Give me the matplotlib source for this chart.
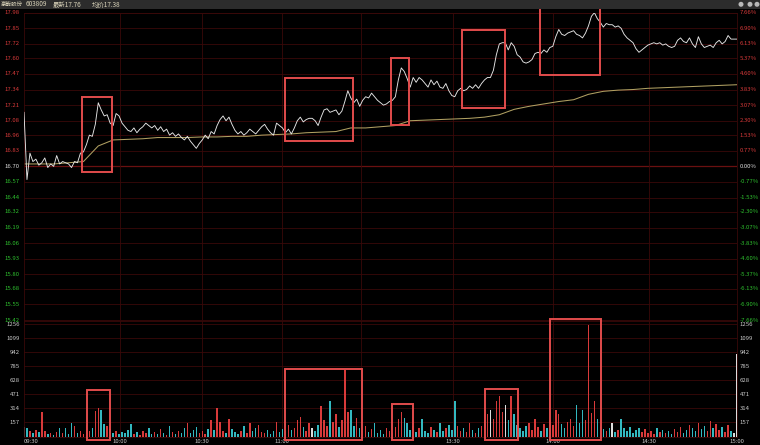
import numpy as np
import matplotlib.pyplot as plt
import matplotlib.transforms as mtransforms
from matplotlib.patches import Rectangle, Ellipse

plt.rcParams['font.family'] = ['Noto Sans CJK SC', 'DejaVu Sans']

prev_close = 16.70

# one value per minute, 09:30 .. 15:00 (241 points)
price = [
    17.15, 16.59, 16.81, 16.74, 16.76, 16.71, 16.73, 16.77, 16.69, 16.72,
    16.70, 16.79, 16.72, 16.74, 16.73, 16.72, 16.69, 16.74, 16.73, 16.81,
    16.82, 16.88, 16.96, 16.95, 17.05, 17.23, 17.17, 17.12, 17.13, 17.06,
    17.04, 17.14, 17.12, 17.06, 17.03, 17.00, 16.99, 17.02, 16.98, 17.01,
    17.03, 17.06, 17.04, 17.02, 17.04, 17.00, 17.03, 16.99, 17.01, 16.96,
    16.98, 16.95, 16.97, 16.94, 16.92, 16.95, 16.91, 16.88, 16.85, 16.89,
    16.92, 16.96, 16.93, 16.99, 16.97, 17.04, 17.09, 17.12, 17.08, 17.11,
    17.05, 17.00, 16.97, 16.99, 16.96, 16.98, 17.01, 16.99, 16.97, 17.00,
    17.03, 17.05, 17.01, 16.98, 16.96, 17.06, 17.04, 17.02, 16.98, 17.01,
    16.97, 17.02, 17.08, 17.11, 17.07, 17.09, 17.10, 17.10, 17.08, 17.04,
    17.11, 17.17, 17.18, 17.15, 17.16, 17.17, 17.13, 17.16, 17.24, 17.33,
    17.27, 17.23, 17.26, 17.20, 17.25, 17.28, 17.27, 17.31, 17.28, 17.25,
    17.23, 17.21, 17.22, 17.24, 17.25, 17.28, 17.42, 17.52, 17.49, 17.43,
    17.36, 17.44, 17.40, 17.44, 17.42, 17.39, 17.36, 17.42, 17.38, 17.41,
    17.36, 17.35, 17.39, 17.33, 17.29, 17.28, 17.33, 17.35, 17.33, 17.34,
    17.37, 17.35, 17.38, 17.35, 17.39, 17.42, 17.44, 17.44, 17.50, 17.63,
    17.72, 17.73, 17.73, 17.67, 17.73, 17.70, 17.63, 17.61, 17.57, 17.56,
    17.57, 17.59, 17.64, 17.65, 17.64, 17.67, 17.65, 17.69, 17.70, 17.78,
    17.84, 17.80, 17.79, 17.81, 17.82, 17.83, 17.80, 17.79, 17.77, 17.81,
    17.87, 17.95, 17.98, 17.93, 17.90, 17.86, 17.89, 17.88, 17.88, 17.86,
    17.87, 17.85, 17.80, 17.77, 17.75, 17.73, 17.68, 17.65, 17.67, 17.69,
    17.71, 17.72, 17.73, 17.72, 17.73, 17.71, 17.72, 17.70, 17.69, 17.70,
    17.75, 17.77, 17.74, 17.73, 17.77, 17.72, 17.69, 17.78, 17.72, 17.69,
    17.70, 17.71, 17.69, 17.73, 17.75, 17.72, 17.74, 17.79, 17.76, 17.76,
    17.76,
]

# average price line, every 5 minutes
avg_minutes = list(range(0, 241, 5))
avg_price = [
    16.72, 16.72, 16.72, 16.73, 16.74, 16.87, 16.92, 16.925, 16.93, 16.94,
    16.94, 16.94, 16.945, 16.945, 16.95, 16.95, 16.96, 16.965, 16.97, 16.98,
    16.985, 16.99, 17.02, 17.02, 17.03, 17.04, 17.08, 17.085, 17.09, 17.095,
    17.10, 17.11, 17.13, 17.175, 17.20, 17.22, 17.24, 17.255, 17.30, 17.325,
    17.335, 17.34, 17.35, 17.355, 17.36, 17.365, 17.37, 17.375, 17.38,
]

volume = [
    110, 90, 60, 40, 70, 50, 280, 60, 30, 40,
    20, 50, 90, 40, 100, 30, 150, 120, 40, 60,
    30, 130, 60, 90, 290, 320, 300, 140, 120, 80,
    40, 60, 30, 50, 40, 70, 140, 30, 50, 20,
    60, 40, 90, 30, 50, 30, 80, 40, 20, 120,
    50, 30, 60, 40, 90, 150, 40, 70, 110, 40,
    60, 30, 80, 190, 70, 320, 160, 60, 40, 200,
    80, 50, 30, 60, 120, 40, 150, 60, 90, 130,
    50, 40, 70, 30, 60, 160, 50, 80, 60, 130,
    70, 90, 180, 220, 110, 60, 150, 90, 60, 130,
    340, 180, 120, 400, 160, 250, 110, 190, 740, 280,
    300, 120, 210, 90, 60, 120, 50, 80, 150, 40,
    70, 30, 90, 60, 40, 110, 200, 270, 210, 150,
    70, 120, 50, 90, 200, 60, 40, 110, 70, 50,
    150, 60, 90, 130, 70, 400, 120, 60, 90, 50,
    150, 70, 40, 90, 120, 180, 250, 300, 200, 400,
    450, 280, 350, 180, 450, 250, 130, 90, 60, 120,
    150, 70, 200, 110, 60, 140, 90, 180, 130, 300,
    250, 140, 90, 160, 200, 120, 350, 150, 300, 180,
    1250, 260, 400, 200, 110, 80, 60, 90, 150, 50,
    70, 200, 90, 60, 110, 40, 70, 100, 50, 80,
    40, 60, 30, 90, 50, 70, 40, 60, 30, 80,
    50, 110, 40, 70, 130, 90, 60, 150, 80, 120,
    60, 170, 90, 140, 70, 110, 50, 130, 60, 40,
    930,
]

price_labels = ['17.98', '17.85', '17.72', '17.60', '17.47', '17.34', '17.21',
                '17.08', '16.96', '16.83', '16.70', '16.57', '16.44', '16.32',
                '16.19', '16.06', '15.93', '15.80', '15.68', '15.55', '15.42']
pct_labels = ['7.66%', '6.90%', '6.13%', '5.37%', '4.60%', '3.83%', '3.07%',
              '2.30%', '1.53%', '0.77%', '0.00%', '-0.77%', '-1.53%', '-2.30%',
              '-3.07%', '-3.83%', '-4.60%', '-5.37%', '-6.13%', '-6.90%', '-7.66%']
vol_ticks = [157, 314, 471, 628, 785, 942, 1099, 1256]
time_ticks = [0, 32.3, 59.9, 86.8, 113.4, 144.4, 178.1, 210.4, 240]
time_labels = ['09:30', '10:00', '10:30', '11:00', '', '13:30', '14:00', '14:30', '15:00']

# highlight boxes: (start minute, end minute, low, high)
price_boxes = [(19.5, 29.6, 16.652, 17.277), (87.8, 110.7, 16.91, 17.435),
               (123.5, 129.6, 17.044, 17.601), (147.4, 161.9, 17.185, 17.834),
               (173.7, 193.9, 17.46, 18.017)]
volume_boxes = [(21.2, 28.9, -39, 521), (87.8, 113.8, -39, 757),
                (123.9, 130.9, -39, 364), (155.2, 166.3, -39, 533),
                (177.0, 194.2, -39, 1317)]

minutes = np.arange(len(price))
W, H = 760, 445
bg = '#000000'
grid_c = '#3a0909'
red = '#d83a3a'
green = '#2ec02e'
cyan = '#33b8c0'
white = '#dcdcdc'
box_c = '#e24c4c'


def px_rect(x0, y0, x1, y1):
    return [x0 / W, 1 - y1 / H, (x1 - x0) / W, (y1 - y0) / H]


fig = plt.figure(figsize=(7.6, 4.45), dpi=100, facecolor=bg)

# header bar
fig.add_artist(Rectangle((0, 1 - 8.5 / H), 1, 8.5 / H, transform=fig.transFigure,
                         facecolor='#2c2c2c', edgecolor='none'))
head_c = '#d8d2b8'
fig.text(1 / W, 1 - 4.5 / H, '豪能股份', color=head_c, fontsize=4.0, va='center')
fig.text(26 / W, 1 - 4.5 / H, '603809', color=head_c, fontsize=4.6, va='center')
fig.text(53 / W, 1 - 4.5 / H, '最新17.76', color=head_c, fontsize=4.6, va='center')
fig.text(92 / W, 1 - 4.5 / H, '均价17.38', color=head_c, fontsize=4.6, va='center')
for cx in [741, 750, 757]:
    fig.add_artist(Ellipse((cx / W, 1 - 4.3 / H), 5 / W, 5 / H, transform=fig.transFigure,
                           facecolor='#b8b8b8', edgecolor='none'))

# price panel
ax = fig.add_axes(px_rect(24, 12.7, 737, 320))
ax.set_facecolor(bg)
ax.set_xlim(0, 240)
ax.set_ylim(15.42, 17.98)
ax.set_xticks([])
ax.set_yticks([])
for s in ax.spines.values():
    s.set_color(grid_c)
    s.set_linewidth(0.6)

trans = mtransforms.blended_transform_factory(ax.transAxes, ax.transData)
for lab, pct in zip(price_labels, pct_labels):
    lv = float(lab)
    if lv > prev_close:
        c = red
    elif lv < prev_close:
        c = green
    else:
        c = white
    ax.axhline(lv, color='#6a1010' if lv == prev_close else grid_c,
               lw=0.9 if lv == prev_close else 0.6, zorder=0)
    ax.text(-0.006, lv, lab, transform=trans, color=c, fontsize=4.3, ha='right', va='center')
    ax.text(1.004, lv, pct, transform=trans, color=c, fontsize=4.3, ha='left', va='center')
for t in time_ticks[1:-1]:
    ax.axvline(t, color=grid_c, lw=0.6, zorder=0)

ax.plot(avg_minutes, avg_price, color='#b0a062', lw=0.75, zorder=2)
ax.plot(minutes, price, color='#e6e6e6', lw=0.65, zorder=3)

for m0, m1, lo, hi in price_boxes:
    ax.add_patch(Rectangle((m0, lo), m1 - m0, hi - lo, fill=False, edgecolor=box_c,
                           lw=1.4, zorder=5, clip_on=False))

# volume panel
axv = fig.add_axes(px_rect(24, 321.4, 737, 436.5))
axv.set_facecolor(bg)
axv.set_xlim(0, 240)
axv.set_ylim(0, 1290)
axv.set_yticks([])
for s in axv.spines.values():
    s.set_color(grid_c)
    s.set_linewidth(0.6)
vtrans = mtransforms.blended_transform_factory(axv.transAxes, axv.transData)
for v in vol_ticks:
    axv.axhline(v, color=grid_c, lw=0.6, zorder=0)
    axv.text(-0.006, v, str(v), transform=vtrans, color='#c8c8c8', fontsize=4.3, ha='right', va='center')
    axv.text(1.004, v, str(v), transform=vtrans, color='#c8c8c8', fontsize=4.3, ha='left', va='center')
for t in time_ticks[1:-1]:
    axv.axvline(t, color=grid_c, lw=0.6, zorder=0)

bar_colors = [white]
for i in range(1, len(price)):
    if price[i] > price[i - 1]:
        bar_colors.append(red)
    elif price[i] < price[i - 1]:
        bar_colors.append(cyan)
    else:
        bar_colors.append(white)
bar_colors[-1] = white
axv.bar(minutes, volume, width=0.5, color=bar_colors, zorder=2)

for m0, m1, lo, hi in volume_boxes:
    axv.add_patch(Rectangle((m0, lo), m1 - m0, hi - lo, fill=False, edgecolor=box_c,
                            lw=1.4, zorder=5, clip_on=False))

axv.set_xticks(time_ticks)
axv.set_xticklabels(time_labels)
axv.tick_params(axis='x', length=0, pad=1.5, labelsize=4.3, labelcolor='#c8c8c8')
lbls = axv.get_xticklabels()
lbls[0].set_horizontalalignment('left')

fig.savefig('out.png', dpi=100, facecolor=bg)
